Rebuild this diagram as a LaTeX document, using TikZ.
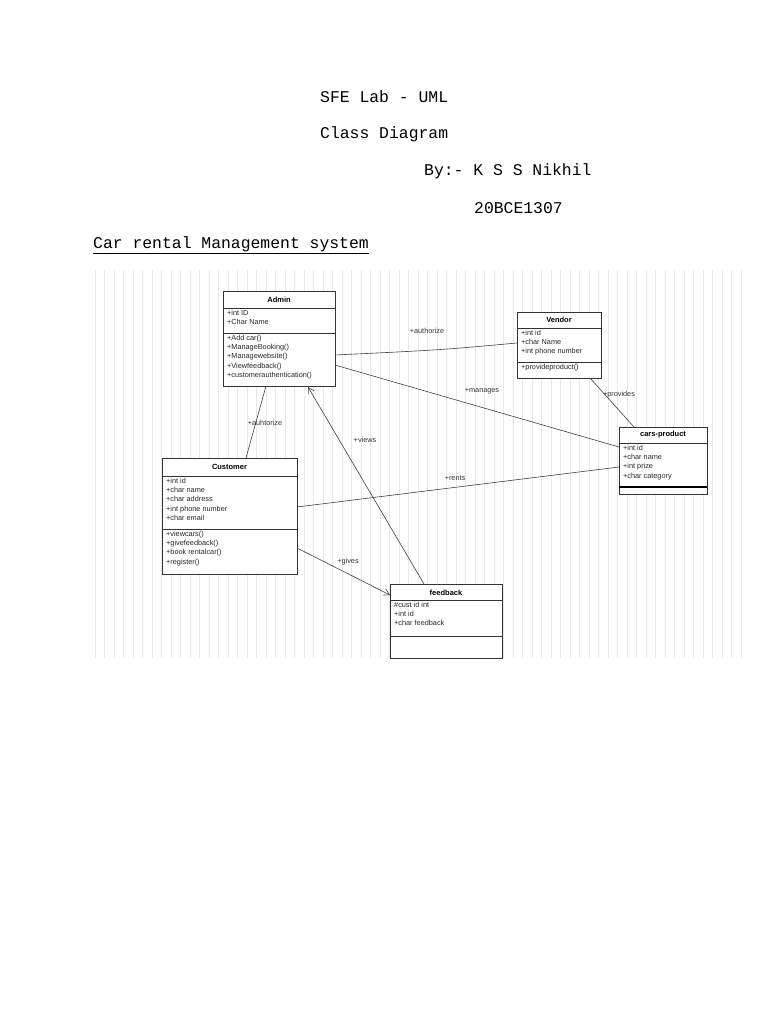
\documentclass[tikz,border=0pt]{standalone}
\usepackage{fontspec}
\setmainfont{Liberation Sans}
\newfontfamily\monof{Liberation Mono}
\usetikzlibrary{arrows.meta}
\begin{document}
\begin{tikzpicture}[x=1pt,y=-1pt,
  cls/.style={draw=black!80,line width=0.8pt,fill=white},
  sep/.style={draw=black!80,line width=0.8pt},
  hd/.style={font=\fontsize{7.5}{8}\selectfont\bfseries},
  attr/.style={font=\fontsize{7.3}{9.2}\selectfont,align=left,anchor=north west,inner sep=0pt,text=black!85},
  lbl/.style={font=\fontsize{7.3}{8}\selectfont,text=black!80,inner sep=1pt},
  ln/.style={draw=black!75,line width=0.6pt},
  ttl/.style={font=\monof\fontsize{16.4}{18}\selectfont,anchor=west,inner sep=0pt}]
\useasboundingbox (0,0) rectangle (768,1024);
\fill[white] (0,0) rectangle (768,1024);
% grid
\begin{scope}
\clip (93,270) rectangle (746,658);
\draw[black!9,line width=0.4pt,step=9.5] (93,270) grid (746,658);
\end{scope}
% titles
\node[ttl] (t1) at (320,97) {SFE Lab - UML};
\node[ttl] (t2) at (320,134) {Class Diagram};
\node[ttl] (t3) at (424,171) {By:- K S S Nikhil};
\node[ttl] (t4) at (474,208) {20BCE1307};
\node[ttl] (t5) at (93,245) {\underline{Car rental Management system}};
% classes
\draw[cls] (223,291) rectangle (335,386);
\draw[sep] (223,308)--(335,308) (223,333)--(335,333);
\node[hd] (admin) at (279,299.5) {Admin};
\node[attr] (adminA) at (227,310) {+int ID\\+Char Name};
\node[attr] (adminM) at (227,335) {+Add car()\\+ManageBooking()\\+Managewebsite()\\+Viewfeedback()\\+customerauthentication()};
\coordinate (aR1) at (335,355); \coordinate (aR2) at (335,365);
\coordinate (aB1) at (266,386); \coordinate (aB2) at (308,387);

\draw[cls] (517,312) rectangle (601,378);
\draw[sep] (517,328)--(601,328) (517,362)--(601,362);
\node[hd] (vendor) at (559,320) {Vendor};
\node[attr] (vendorA) at (521,330) {+int id\\+char Name\\+int phone number};
\node[attr] (vendorM) at (521,364.5) {+provideproduct()};
\coordinate (vL) at (517,343); \coordinate (vB) at (590,378);

\draw[cls] (619,427) rectangle (707,494);
\draw[sep] (619,443)--(707,443);
\draw[black,line width=1.2pt] (619,487)--(707,487);
\node[hd] (cars) at (663,435) {cars-product};
\node[attr] (carsA) at (623,445) {+int id\\+char name\\+int prize\\+char category};
\coordinate (cL1) at (619,447); \coordinate (cL2) at (619,467); \coordinate (cT) at (634,427);

\draw[cls] (162,458) rectangle (297,574);
\draw[sep] (162,476)--(297,476) (162,529)--(297,529);
\node[hd] (cust) at (229.5,467) {Customer};
\node[attr] (custA) at (166,478) {+int id\\+char name\\+char address\\+int phone number\\+char email};
\node[attr] (custM) at (166,531) {+viewcars()\\+givefeedback()\\+book rentalcar()\\+register()};
\coordinate (cuT) at (246,458); \coordinate (cuR1) at (297,507); \coordinate (cuR2) at (297,548);

\draw[cls] (390,584) rectangle (502,658);
\draw[sep] (390,600)--(502,600) (390,636)--(502,636);
\node[hd] (fb) at (446,592.5) {feedback};
\node[attr] (fbA) at (394,602) {\#cust id int\\+int id\\+char feedback};
\coordinate (fT) at (424,584); \coordinate (fL) at (390,595);
% connectors
\draw[ln] (aR1) .. controls (440,350) .. (vL);
\node[lbl] at (427,331) {+authorize};
\draw[ln] (aR2) -- (cL1);
\node[lbl] at (482,391) {+manages};
\draw[ln] (vB) -- (cT);
\node[lbl] at (619,395) {+provides};
\draw[ln] (aB1) -- (cuT);
\node[lbl] at (265,423) {+auhtorize};
\draw[ln,-{Straight Barb[length=6pt,width=7pt]}] (fT) -- (aB2);
\node[lbl] at (365,440) {+views};
\draw[ln] (cuR1) -- (cL2);
\node[lbl] at (455,478) {+rents};
\draw[ln,-{Straight Barb[length=6pt,width=7pt]}] (cuR2) -- (fL);
\node[lbl] at (348,562) {+gives};
\end{tikzpicture}
\end{document}
